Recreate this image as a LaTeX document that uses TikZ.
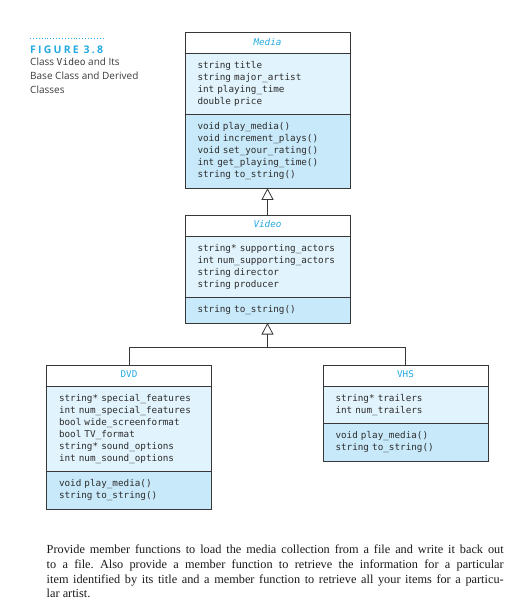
\documentclass[tikz,border=0pt]{standalone}
\usepackage{fontspec}
\setmainfont{Liberation Serif}
\setmonofont{DejaVu Sans Mono}
\newfontfamily\capfont{Open Sans}
\usetikzlibrary{positioning, arrows.meta, calc}

\definecolor{headcyan}{RGB}{38,170,226}
\definecolor{attrblue}{RGB}{225,243,252}
\definecolor{methblue}{RGB}{200,233,249}
\definecolor{boxline}{RGB}{55,55,55}
\definecolor{boxtext}{RGB}{45,45,45}
\definecolor{captext}{RGB}{60,60,60}

\newcommand{\umlfont}{\ttfamily\fontsize{9.3}{12}\selectfont}

\begin{document}
\begin{tikzpicture}[x=1pt, y=1pt]

	\useasboundingbox (0,0) rectangle (514,-599);

	\tikzstyle{box}=[draw=boxline, line width=0.8pt, outer sep=0pt, text width=140pt, inner xsep=12.5pt, inner ysep=6.75pt, font=\umlfont, text=boxtext, align=left, execute at begin node=\strut, execute at end node=\strut]
	\tikzstyle{head}=[box, fill=white, align=center, inner ysep=4.5pt, text=headcyan]
	\tikzstyle{attr}=[box, fill=attrblue]
	\tikzstyle{meth}=[box, fill=methblue]

	\tikzstyle{link}=[draw=boxline, line width=0.8pt]
	\tikzstyle{inherit}=[link, -{Triangle[open, length=11.5pt, width=12pt]}]


	% base class
	\node[head, font=\umlfont\itshape] (media) at (267.5,-42.8) {Media};
	\node[attr, below=0pt of media] (media_attr) {string title\\string major\_artist\\int playing\_time\\double price};
	\node[meth, below=0pt of media_attr] (media_meth) {void play\_media()\\void increment\_plays()\\void set\_your\_rating()\\int get\_playing\_time()\\string to\_string()};

	% video
	\node[head, font=\umlfont\itshape, below=26.7pt of media_meth] (video) {Video};
	\node[attr, below=0pt of video] (video_attr) {string* supporting\_actors\\int num\_supporting\_actors\\string director\\string producer};
	\node[meth, below=0pt of video_attr] (video_meth) {string to\_string()};

	\draw[inherit] (video.north) -- (media_meth.south);

	% derived classes
	\node[head, below=42pt of video_meth, xshift=-138.5pt] (dvd) {DVD};
	\node[attr, below=0pt of dvd] (dvd_attr) {string* special\_features\\int num\_special\_features\\bool wide\_screenformat\\bool TV\_format\\string* sound\_options\\int num\_sound\_options};
	\node[meth, below=0pt of dvd_attr] (dvd_meth) {void play\_media()\\string to\_string()};

	\node[head, below=42pt of video_meth, xshift=138pt] (vhs) {VHS};
	\node[attr, below=0pt of vhs] (vhs_attr) {string* trailers\\int num\_trailers};
	\node[meth, below=0pt of vhs_attr] (vhs_meth) {void play\_media()\\string to\_string()};

	\coordinate[below=24.5pt of video_meth] (join);
	\draw[link] (dvd.north) |- (join) -| (vhs.north);
	\draw[inherit] (join) -- (video_meth.south);


	% caption
	\draw[headcyan, dotted, line width=0.9pt] (30,-38.7) -- (102.7,-38.7);
	\node[anchor=base west, inner sep=0pt, text=headcyan, font=\capfont\bfseries\fontsize{10.5}{12}\selectfont\addfontfeature{LetterSpace=21}] (figlabel) at (30,-53.3) {FIGURE 3.8};
	\node[anchor=north west, inner sep=0pt, align=left, text=captext, font=\capfont\fontsize{10}{13.7}\selectfont, execute at begin node=\strut] (figcaption) at (30,-58.1) {Class {\ttfamily\fontsize{9.6}{13.7}\selectfont Video} and Its\\Base Class and Derived\\Classes};

	% text below
	\node[anchor=north west, inner sep=0pt, align=left, text=black!90, font=\frenchspacing\fontsize{12.3}{14.6}\selectfont, execute at begin node=\strut] (bodytext) at (46.5,-545) {\makebox[457pt][s]{Provide member functions to load the media collection from a file and write it back out}\\\makebox[457pt][s]{to a file. Also provide a member function to retrieve the information for a particular}\\\makebox[457pt][s]{item identified by its title and a member function to retrieve all your items for a particu-}\\lar artist.};

\end{tikzpicture}
\end{document}
